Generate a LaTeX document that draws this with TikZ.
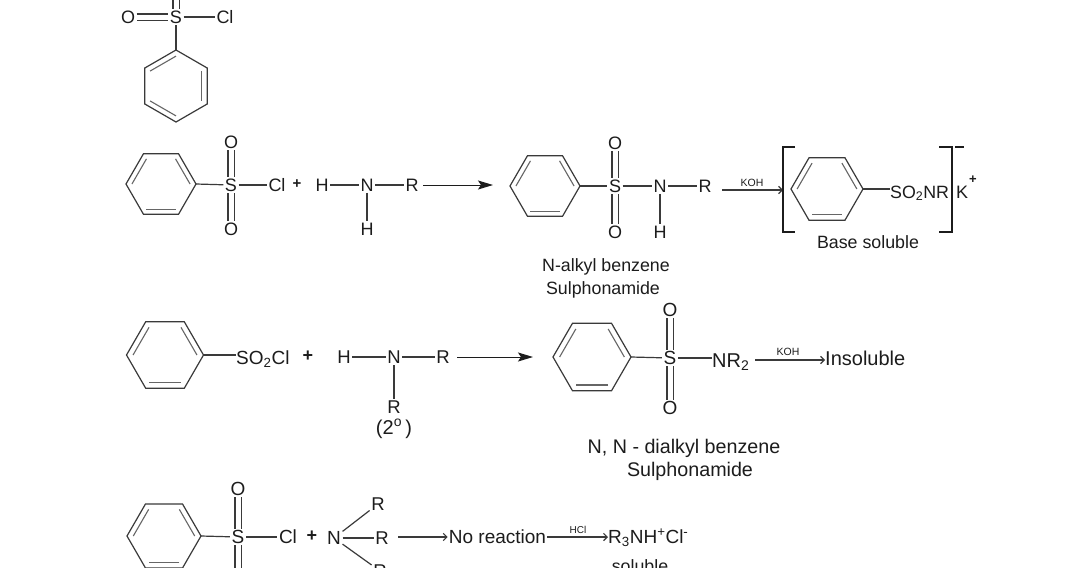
\documentclass[tikz,border=0pt]{standalone}
\usepackage{fontspec}
\setmainfont{Liberation Sans}
\usepackage{tikz}
\usetikzlibrary{calc}
\usetikzlibrary{arrows.meta}
\tikzset{>=Straight Barb}
\definecolor{inkline}{HTML}{3A3A3A}
\definecolor{inktext}{HTML}{1C1C1C}
\tikzstyle{atom} = [draw=none, inner sep = 1.5, text = inktext, font = \fontsize{18}{18}\selectfont]
\tikzstyle{atomb} = [atom, font = \fontsize{19}{19}\selectfont]
\tikzstyle{atomc} = [atom, font = \fontsize{18.5}{18}\selectfont]
\tikzstyle{reagent} = [draw=none, inner sep = 0, text = inktext, font = \fontsize{10.5}{11}\selectfont]
\tikzstyle{plus} = [draw=none, inner sep = 0, text = inktext, font = \bfseries\fontsize{18}{18}\selectfont]
\tikzstyle{captiona} = [draw=none, inner sep = 1, text = inktext, font = \fontsize{17.8}{18}\selectfont]
\tikzstyle{captionb} = [draw=none, inner sep = 1, text = inktext, font = \fontsize{19.7}{20}\selectfont]
\tikzstyle{bond} = [-, line width = 1.2, inkline]
\tikzstyle{dbond} = [-, line width = 1.2, inkline, double, double distance = 5]
\tikzstyle{inner bond} = [-, line width = 1.1, black!60]
\tikzstyle{big arrow} = [-{Stealth[length=15, width=9, inset=3]}, line width = 1, inktext]
\tikzstyle{small arrow} = [->, line width = 1.1, inkline]
\tikzstyle{bracket} = [-, line width = 1.6, inktext]

% name, centre x, centre y, radius, start angle
\newcommand{\benzring}[5]{
\coordinate (#1c) at (#2, #3);
\foreach \i in {1,...,6} {
\coordinate (#1\i) at ($(#1c) + (#5 + 60*\i : #4)$);
}
\draw [bond] (#11) to (#12) to (#13) to (#14) to (#15) to (#16) -- cycle;
\draw [inner bond] ($(#11)!0.17!(#1c)$) to ($(#12)!0.17!(#1c)$);
\draw [inner bond] ($(#13)!0.17!(#1c)$) to ($(#14)!0.17!(#1c)$);
\draw [inner bond] ($(#15)!0.17!(#1c)$) to ($(#16)!0.17!(#1c)$);
}

\begin{document}
\begin{tikzpicture}[x=1pt, y=-1pt]
\useasboundingbox (0, 0) rectangle (1080, 568);
\clip (0, 0) rectangle (1080, 568);
\fill [white] (0, 0) rectangle (1080, 568);

% starting sulphonyl chloride
\benzring{ringA}{176}{86}{36}{30}
\node [atom] (Oa) at (128, 17) {O};
\node [atom] (Sa) at (176, 17) {S};
\node [atom] (Cla) at (225, 17) {Cl};
\coordinate (Oat) at (176, -10);
\draw [dbond] (Oa) to (Sa);
\draw [dbond] (Sa) to (Oat);
\draw [bond] (Sa) to (Cla);
\draw [bond] (Sa) to (ringA4);

% primary amine
\benzring{ringB}{161}{184}{35}{0}
\node [atom] (Sb) at (231, 185) {S};
\node [atom] (Obt) at (231, 142) {O};
\node [atom] (Obb) at (231, 229) {O};
\node [atom] (Clb) at (277, 185) {Cl};
\node [plus, font = \bfseries\fontsize{15}{15}\selectfont] (plusb) at (297, 184) {+};
\node [atom] (Hb) at (322, 185) {H};
\node [atom] (Nb) at (367, 185) {N};
\node [atom] (Rb) at (412, 185) {R};
\node [atom] (Hbb) at (367, 229) {H};
\coordinate (arrbs) at (423, 185);
\coordinate (arrbe) at (493, 185);
\draw [bond] (ringB6) to (Sb);
\draw [dbond] (Sb) to (Obt);
\draw [dbond] (Sb) to (Obb);
\draw [bond] (Sb) to (Clb);
\draw [bond] (Hb) to (Nb);
\draw [bond] (Nb) to (Rb);
\draw [bond] (Nb) to (Hbb);
\draw [big arrow] (arrbs) to (arrbe);

\benzring{ringC}{545}{186}{35}{0}
\node [atom] (Sc) at (615, 186) {S};
\node [atom] (Oct) at (615, 143) {O};
\node [atom] (Ocb) at (615, 232) {O};
\node [atom] (Nc) at (660, 186) {N};
\node [atom] (Rc) at (705, 186) {R};
\node [atom] (Hc) at (660, 232) {H};
\draw [bond] (ringC6) to (Sc);
\draw [dbond] (Sc) to (Oct);
\draw [dbond] (Sc) to (Ocb);
\draw [bond] (Sc) to (Nc);
\draw [bond] (Nc) to (Rc);
\draw [bond] (Nc) to (Hc);
\node [captiona] (capc) at (606, 266.5) {N-alkyl benzene};
\node [captiona] (capcb) at (603, 289.5) {Sulphonamide};

\node [reagent] (kohc) at (752, 183) {KOH};
\coordinate (arrcs) at (722, 190);
\coordinate (arrce) at (783, 190);
\draw [small arrow] (arrcs) to (arrce);

\benzring{ringD}{827}{189}{36}{0}
\node [atom, font = \fontsize{17.8}{18}\selectfont, anchor = base west, inner sep = 0] (SOd) at (890, 198) {SO\textsubscript{2}NR};
\node [atom] (Kd) at (962, 192) {K};
\node [reagent, font = \bfseries\fontsize{13}{13}\selectfont] (plusd) at (973, 180) {+};
\coordinate (blt) at (795, 147);
\coordinate (blu) at (783, 147);
\coordinate (bld) at (783, 232);
\coordinate (blb) at (795, 232);
\coordinate (brt) at (939, 147);
\coordinate (bru) at (952, 147);
\coordinate (brd) at (952, 232);
\coordinate (brb) at (939, 232);
\coordinate (mins) at (955, 147);
\coordinate (mine) at (964, 147);
\draw [bracket] (blt) to (blu) to (bld) to (blb);
\draw [bracket] (brt) to (bru) to (brd) to (brb);
\draw [bracket] (mins) to (mine);
\draw [bond] (ringD6) to (SOd.west |- ringD6);
\node [captiona] (capd) at (868, 242) {Base soluble};

% secondary amine
\benzring{ringE}{165}{355}{38.5}{0}
\node [atomb, anchor = base west, inner sep = 0] (SOe) at (236, 364) {SO\textsubscript{2}Cl};
\node [plus] (pluse) at (308, 356) {+};
\node [atomc] (He) at (344, 357) {H};
\node [atomc] (Ne) at (394, 357) {N};
\node [atomc] (Re) at (443, 357) {R};
\node [atomc] (Reb) at (394, 407) {R};
\node [atomc, font = \fontsize{20}{20}\selectfont] (dege) at (394, 429) {(2\textsuperscript{o}\,)};
\coordinate (arres) at (457, 357);
\coordinate (arree) at (533, 357);
\draw [bond] (ringE6) to (SOe.west |- ringE6);
\draw [bond] (He) to (Ne);
\draw [bond] (Ne) to (Re);
\draw [bond] (Ne) to (Reb);
\draw [big arrow] (arres) to (arree);

\benzring{ringF}{592}{357}{39}{0}
\node [atomb] (Sf) at (670, 358) {S};
\node [atomb] (Oft) at (670, 310) {O};
\node [atomb] (Ofb) at (670, 408) {O};
\node [atomb, font = \fontsize{20}{20}\selectfont, anchor = base west, inner sep = 0] (NRf) at (712, 367) {NR\textsubscript{2}};
\draw [bond] (ringF6) to (Sf);
\draw [dbond] (Sf) to (Oft);
\draw [dbond] (Sf) to (Ofb);
\draw [bond] (Sf) to (NRf.west |- Sf);
\node [reagent] (kohf) at (788, 352) {KOH};
\node [captionb, font = \fontsize{20}{20}\selectfont, anchor = west, inner sep = 0] (insf) at (825, 358) {Insoluble};
\coordinate (arrfs) at (755, 360);
\draw [small arrow] (arrfs) to (insf.west |- arrfs);
\node [captionb] (capf) at (684, 448.5) {N, N - dialkyl benzene};
\node [captionb] (capfb) at (690, 471) {Sulphonamide};

% tertiary amine
\benzring{ringG}{164}{536}{37}{0}
\node [atomb] (Sg) at (238, 537) {S};
\node [atomb] (Ogt) at (238, 489) {O};
\coordinate (Ogb) at (238, 580);
\node [atomb] (Clg) at (288, 537) {Cl};
\node [plus] (plusg) at (312, 536) {+};
\node [atomb] (Ng) at (334, 538) {N};
\node [atomc] (Rgt) at (378, 504) {R};
\node [atomc] (Rgm) at (382, 538) {R};
\node [atomc] (Rgb) at (380, 571) {R};
\draw [bond] (ringG6) to (Sg);
\draw [dbond] (Sg) to (Ogt);
\draw [dbond] (Sg) to (Ogb);
\draw [bond] (Sg) to (Clg);
\draw [bond] (Ng) to (Rgt);
\draw [bond] (Ng) to (Rgm);
\draw [bond] (Ng) to (Rgb);
\coordinate (arrgs) at (398, 537);
\node [captionb, font = \fontsize{19}{19}\selectfont] (nor) at (497.5, 537) {No reaction};
\node [reagent, font = \fontsize{10}{10}\selectfont] (hclg) at (578, 530) {HCl};
\node [captionb, font = \fontsize{19}{19}\selectfont, anchor = base west, inner sep = 0] (salt) at (608, 543) {R\textsubscript{3}NH\textsuperscript{+}Cl\textsuperscript{-}};
\node [captiona] (solg) at (640, 566) {soluble};
\draw [small arrow] (arrgs) to (nor.west |- arrgs);
\draw [small arrow] (nor.east |- arrgs) to (salt.west |- arrgs);
\end{tikzpicture}
\end{document}
